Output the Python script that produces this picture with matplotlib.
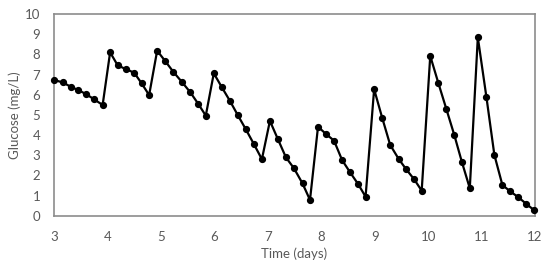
import matplotlib
matplotlib.use("Agg")
import matplotlib.pyplot as plt

# glucose readings
time_days = [3.00, 3.16, 3.31, 3.45, 3.60, 3.75, 3.91,
             4.05, 4.19, 4.34, 4.50, 4.64, 4.78,
             4.93, 5.08, 5.23, 5.39, 5.55, 5.70, 5.84,
             5.99, 6.14, 6.29, 6.44, 6.59, 6.74, 6.89,
             7.04, 7.19, 7.34, 7.49, 7.65, 7.79,
             7.94, 8.09, 8.24, 8.39, 8.54, 8.69, 8.83,
             8.99, 9.14, 9.29, 9.45, 9.59, 9.74, 9.88,
             10.04, 10.19, 10.34, 10.49, 10.63, 10.78,
             10.93, 11.09, 11.24, 11.39, 11.53, 11.69, 11.84, 11.98]
glucose = [6.73, 6.61, 6.40, 6.23, 6.03, 5.77, 5.49,
           8.10, 7.46, 7.27, 7.09, 6.56, 5.98,
           8.18, 7.67, 7.14, 6.64, 6.12, 5.54, 4.96,
           7.06, 6.37, 5.70, 4.98, 4.28, 3.55, 2.80,
           4.70, 3.79, 2.89, 2.35, 1.60, 0.78,
           4.41, 4.05, 3.72, 2.76, 2.15, 1.57, 0.94,
           6.27, 4.86, 3.51, 2.81, 2.30, 1.80, 1.24,
           7.92, 6.59, 5.30, 4.00, 2.68, 1.36,
           8.84, 5.90, 3.01, 1.52, 1.22, 0.91, 0.58, 0.28]

plt.rcParams['font.family'] = ['Lato', 'DejaVu Sans']
txt = '#595959'

fig = plt.figure(figsize=(5.5, 2.66), dpi=100)
ax = fig.add_axes([54/550, 1 - 215.7/266, (535-54)/550, (215.7-14)/266])

ax.plot(time_days, glucose, color='black', lw=1.6, marker='o', ms=4.2, clip_on=False, zorder=3)

ax.set_xlim(3, 12)
ax.set_ylim(0, 10)
ax.set_xticks(range(3, 13))
ax.set_yticks(range(0, 11))
ax.tick_params(length=0, labelsize=9.5, colors=txt)
ax.tick_params(axis='x', pad=11)
ax.tick_params(axis='y', pad=10)
for s in ax.spines.values():
    s.set_color('#8c8c8c')
    s.set_linewidth(1.2)

ax.set_xlabel('Time (days)', fontsize=9.5, color=txt, labelpad=3)
ax.set_ylabel('Glucose (mg/L)', fontsize=9.5, color=txt, labelpad=3)

fig.savefig('out.png', dpi=100)
